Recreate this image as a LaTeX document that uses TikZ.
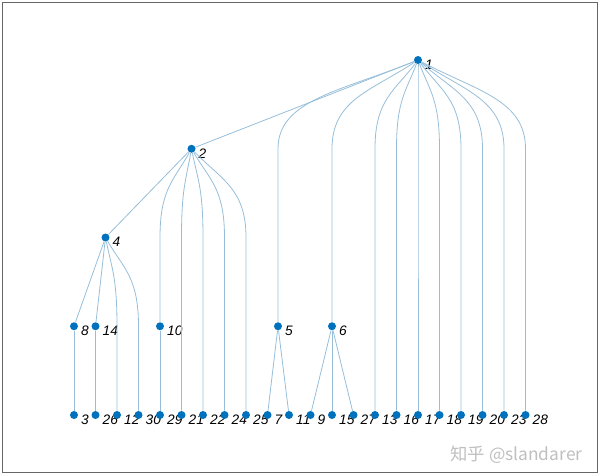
\documentclass[tikz,border=0pt]{standalone}
\usepackage{fontspec}
\setmainfont{Liberation Sans}
\newfontfamily\cjk{Noto Sans CJK SC}
\usetikzlibrary{calc}
\definecolor{bleu}{HTML}{0072BD}
\definecolor{trait}{RGB}{150,190,218}

\begin{document}
\begin{tikzpicture}[x=0.75pt, y=-0.75pt,
    sommet/.style={circle, fill=bleu, minimum size=6pt, inner sep=0pt, label distance=0pt},
    etiq/.style={anchor=base west, inner sep=0pt, xshift=2pt, yshift=-7pt, font=\fontsize{10.3}{12}\selectfont\itshape},
    arete/.style={draw=trait, line width=0.6pt},
    courbe/.style={to path={let \p1=(\tikztostart), \p2=(\tikztotarget) in
        .. controls ({\x1+0.55*(\x2-\x1)},{\y1+0.35*(\y2-\y1)}) and (\x2,{\y1+0.45*(\y2-\y1)}) .. (\p2)}}]
                \useasboundingbox (0,0) rectangle (600,475);
                \draw[black!60, line width=1pt] (2.5,2.5) rectangle (597.5,472.5);

                % Les sommets
                \node[sommet, label={[etiq]right:1}] (n1) at (418,60) {};
                \node[sommet, label={[etiq]right:2}] (n2) at (191.5,148.75) {};
                \node[sommet, label={[etiq]right:4}] (n4) at (105.5,237.5) {};
                \node[sommet, label={[etiq]right:8}] (n8) at (74,326.25) {};
                \node[sommet, label={[etiq]right:14}] (n14) at (95.5,326.25) {};
                \node[sommet, label={[etiq]right:10}] (n10) at (160,326.25) {};
                \node[sommet, label={[etiq]right:5}] (n5) at (278,326.25) {};
                \node[sommet, label={[etiq]right:6}] (n6) at (332,326.25) {};
                \node[sommet, label={[etiq]right:3}] (n3) at (74,415) {};
                \node[sommet, label={[etiq]right:26}] (n26) at (95.5,415) {};
                \node[sommet, label={[etiq]right:12}] (n12) at (117,415) {};
                \node[sommet, label={[etiq]right:30}] (n30) at (138.5,415) {};
                \node[sommet, label={[etiq]right:29}] (n29) at (160,415) {};
                \node[sommet, label={[etiq]right:21}] (n21) at (181.5,415) {};
                \node[sommet, label={[etiq]right:22}] (n22) at (203,415) {};
                \node[sommet, label={[etiq]right:24}] (n24) at (224.5,415) {};
                \node[sommet, label={[etiq]right:25}] (n25) at (246,415) {};
                \node[sommet, label={[etiq]right:7}] (n7) at (267.5,415) {};
                \node[sommet, label={[etiq]right:11}] (n11) at (289,415) {};
                \node[sommet, label={[etiq]right:9}] (n9) at (310.5,415) {};
                \node[sommet, label={[etiq]right:15}] (n15) at (332,415) {};
                \node[sommet, label={[etiq]right:27}] (n27) at (353.5,415) {};
                \node[sommet, label={[etiq]right:13}] (n13) at (375,415) {};
                \node[sommet, label={[etiq]right:16}] (n16) at (396.5,415) {};
                \node[sommet, label={[etiq]right:17}] (n17) at (418,415) {};
                \node[sommet, label={[etiq]right:18}] (n18) at (439.5,415) {};
                \node[sommet, label={[etiq]right:19}] (n19) at (461,415) {};
                \node[sommet, label={[etiq]right:20}] (n20) at (482.5,415) {};
                \node[sommet, label={[etiq]right:23}] (n23) at (504,415) {};
                \node[sommet, label={[etiq]right:28}] (n28) at (525.5,415) {};

                % Les arêtes directes
                \draw[arete] (n1) -- (n2);
                \draw[arete] (n2) -- (n4);
                \draw[arete] (n4) -- (n8);
                \draw[arete] (n4) -- (n14);
                \draw[arete] (n8) -- (n3);
                \draw[arete] (n14) -- (n26);
                \draw[arete] (n10) -- (n29);
                \draw[arete] (n5) -- (n7);
                \draw[arete] (n5) -- (n11);
                \draw[arete] (n6) -- (n9);
                \draw[arete] (n6) -- (n15);
                \draw[arete] (n6) -- (n27);

                % Les arêtes longues (courbées puis verticales)
                \draw[arete] (n1) to[courbe] (n5 |- n2) -- (n5);
                \draw[arete] (n1) to[courbe] (n6 |- n2) -- (n6);
                \draw[arete] (n1) to[courbe] (n13 |- n2) -- (n13);
                \draw[arete] (n1) to[courbe] (n16 |- n2) -- (n16);
                \draw[arete] (n1) to[courbe] (n17 |- n2) -- (n17);
                \draw[arete] (n1) to[courbe] (n18 |- n2) -- (n18);
                \draw[arete] (n1) to[courbe] (n19 |- n2) -- (n19);
                \draw[arete] (n1) to[courbe] (n20 |- n2) -- (n20);
                \draw[arete] (n1) to[courbe] (n23 |- n2) -- (n23);
                \draw[arete] (n1) to[courbe] (n28 |- n2) -- (n28);
                \draw[arete] (n2) to[courbe] (n10 |- n4) -- (n10);
                \draw[arete] (n2) to[courbe] (n21 |- n4) -- (n21);
                \draw[arete] (n2) to[courbe] (n22 |- n4) -- (n22);
                \draw[arete] (n2) to[courbe] (n24 |- n4) -- (n24);
                \draw[arete] (n2) to[courbe] (n25 |- n4) -- (n25);
                \draw[arete] (n4) to[courbe] (n12 |- n8) -- (n12);
                \draw[arete] (n4) to[courbe] (n30 |- n8) -- (n30);

                % Filigrane
                \node[text=black!25, font=\cjk\fontsize{13}{15}\selectfont] (fil) at (516.5,455) {知乎 @slandarer};
            \end{tikzpicture}
\end{document}
